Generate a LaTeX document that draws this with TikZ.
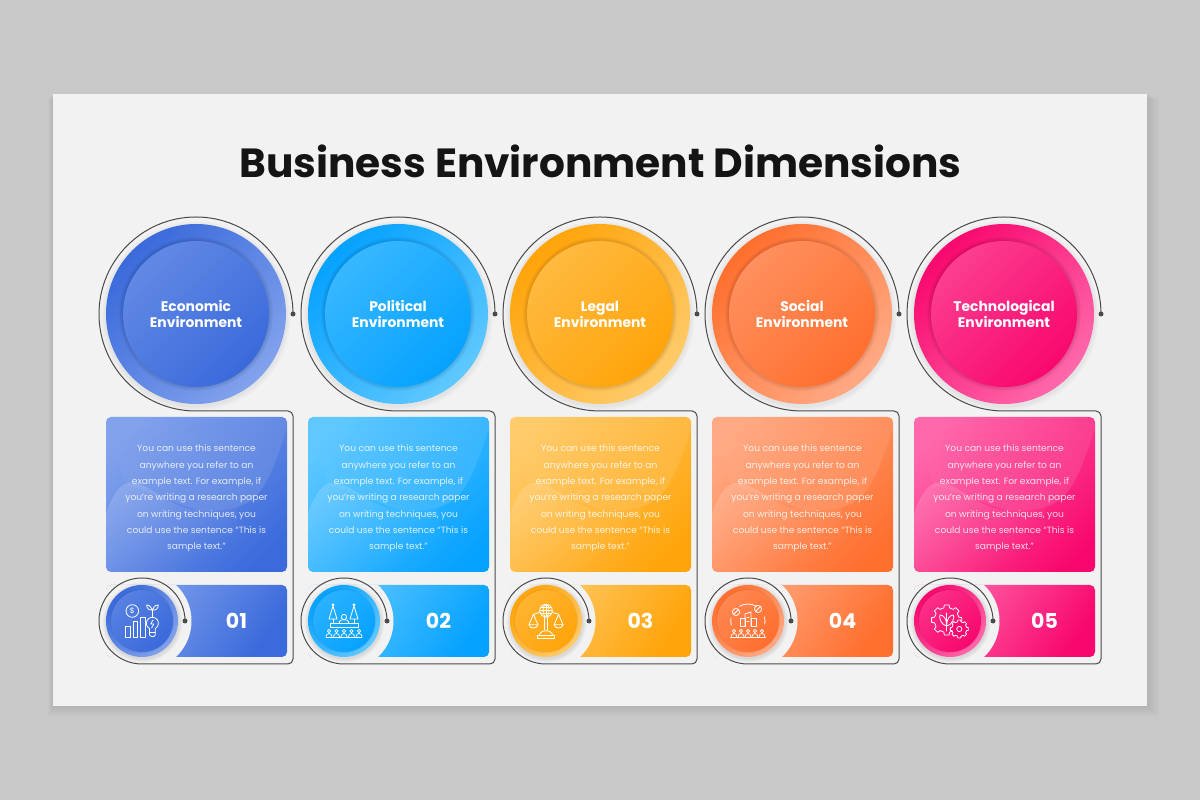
\documentclass[tikz,border=0pt]{standalone}
\usepackage{fontspec}
\setmainfont{Poppins}
\usetikzlibrary{calc,fadings}
\definecolor{pagebg}{HTML}{C8C8C8}
\definecolor{slidebg}{HTML}{F2F2F2}
\definecolor{linec}{HTML}{4A4A4A}
\definecolor{titlec}{HTML}{141414}
\definecolor{darkA}{HTML}{3A6ADB}\definecolor{lightA}{HTML}{82A2EC}
\definecolor{darkB}{HTML}{06A2FF}\definecolor{lightB}{HTML}{60C8FF}
\definecolor{darkC}{HTML}{FFA40A}\definecolor{lightC}{HTML}{FFCB6B}
\definecolor{darkD}{HTML}{FF6F2E}\definecolor{lightD}{HTML}{FFAA85}
\definecolor{darkE}{HTML}{F8086E}\definecolor{lightE}{HTML}{FF69AB}
\tikzset{
  x=1pt,y=1pt,
  linepath/.style={draw=linec,line width=1pt},
  dotnode/.style={circle,fill=linec,inner sep=0pt,minimum size=5pt},
  headtext/.style={text=white,align=center,font=\fontsize{13.9}{16}\selectfont\bfseries},
  bodytext/.style={text=white,text opacity=.82,align=center,font=\fontsize{9.1}{16.3}\selectfont},
  numtext/.style={text=white,font=\fontsize{20.5}{22}\selectfont\bfseries},
  icon/.style={draw=white,line width=.8pt,line join=round,line cap=round},
}
\newcommand{\column}[5]{% shift, letter, head, number, icon macro
\begin{scope}[xshift=#1pt]
  \foreach \k in {1,...,5}{\fill[black,opacity=.012] (196,484) circle ({90+\k});}
  \shade[top color=dark#2,bottom color=light#2,shading angle=45]
     (196,486) circle (90);
  \foreach \k in {1,...,6}{\fill[black,opacity=.02] (196,486) circle ({73+\k*.7});}
  \shade[top color=light#2!55!dark#2,bottom color=dark#2,shading angle=45]
     (196,486) circle (73);
  \node[headtext] (head#2) at (196,486) {#3};
  \begin{scope}
    \path[clip,rounded corners=5pt] (106,228) rectangle (287,383);
    \shade[top color=light#2,bottom color=dark#2,shading angle=45] (96,218) rectangle (297,393);
    \fill[white,path fading=south,fading angle=45,opacity=.16] (105,283) .. controls (110,300) and (118,313) .. (125,316)
       .. controls (145,324) and (165,292) .. (197,290)
       .. controls (212,288) and (225,290) .. (237,293)
       -- (237,228) -- (100,228) -- cycle;
    \fill[white,path fading=north,fading angle=45,opacity=.12] (287,372) .. controls (272,325) and (262,300) .. (237,293)
       .. controls (225,290) and (212,288) .. (197,290)
       -- (125,316) -- (106,383) -- (287,383) -- cycle;
  \end{scope}
  \node[bodytext] (body#2) at (196.5,301.5) {You can use this sentence\\anywhere you refer to an\\example text. For example, if\\you're writing a research paper\\on writing techniques, you\\could use the sentence “This is\\sample text.”};
  \begin{scope}
    \path[clip,rounded corners=5pt] (106,143) rectangle (287,215);
    \shade[top color=light#2,bottom color=dark#2,shading angle=55] (106,143) rectangle (287,215);
    \fill[slidebg] (142,179) circle (49.5);
  \end{scope}
  \node[numtext] (num#2) at (236.5,179) {#4};
  \foreach \k in {1,...,5}{\fill[black,opacity=.02] (142.5,177.5) circle ({36+\k*.8});}
  \shade[top color=dark#2,bottom color=light#2,shading angle=45] (142,179) circle (36);
  \foreach \k in {1,...,3}{\fill[black,opacity=.025] (142,179) circle ({31+\k*.5});}
  \shade[top color=light#2!40!dark#2,bottom color=dark#2,shading angle=45] (142,179) circle (31);
  \begin{scope}[shift={(142,179)}]
    #5
  \end{scope}
  \node[dotnode] (dotbig#2) at (293,486) {};
  \node[dotnode] (dotsmall#2) at (185,179) {};
  \draw[linepath] (dotbig#2.center) arc[start angle=0,end angle=270,radius=97]
     -- (288,389) arc[start angle=90,end angle=0,radius=5]
     -- (293,141) arc[start angle=0,end angle=-90,radius=5]
     -- (142,136) arc[start angle=270,end angle=0,radius=43];
\end{scope}}
\newcommand{\gearpath}[4]{% cx cy r options
  \draw[icon,#4] ($(#1,#2)+(-13:#3)$)
   \foreach \a in {0,45,...,315}{
     -- ($(#1,#2)+(\a-13:#3)$) -- ($(#1,#2)+(\a-9:#3*1.22)$) -- ($(#1,#2)+(\a+9:#3*1.22)$) -- ($(#1,#2)+(\a+13:#3)$)} -- cycle;}
\newcommand{\iconA}{%
  \draw[icon] (-9.7,10) circle (6.3);
  \node[text=white,font=\fontsize{7.5}{8}\selectfont,inner sep=0pt] (dollar) at (-9.7,10) {\$};
  \draw[icon] (-16.3,-16.3) rectangle (-11.5,-5.7);
  \draw[icon] (-9,-16.3) rectangle (-4.3,-0.7);
  \draw[icon] (-2,-16.3) rectangle (3,3.7);
  \draw[icon] (7.4,-7.5) arc[start angle=240,end angle=-60,radius=6];
  \draw[icon] (7.4,-7.5) -- (7.4,-14) .. controls (8.5,-16.5) and (11.8,-16.5) .. (13.2,-14) -- (13.2,-7.5);
  \draw[icon] (7.4,-11) -- (13.2,-11);
  \draw[icon] (11,1) -- (8.8,-3) -- (11.8,-3) -- (9.6,-7);
  \draw[icon] (10.3,4.3) -- (10.3,12);
  \draw[icon] (10.3,11) .. controls (7.5,16.5) and (6,16) .. (4.7,16) .. controls (4.7,12.5) and (7,10.5) .. (10.3,11);
  \draw[icon] (10.3,11) .. controls (13,16.5) and (15,16) .. (16.3,16) .. controls (16.3,12.5) and (14,10.5) .. (10.3,11);
}
\newcommand{\person}[2]{%
  \draw[icon,line width=.7pt] (#1,#2) circle (1.7);
  \draw[icon,line width=.7pt] ({#1-3},{#2-5.6}) .. controls ({#1-3},{#2-1.5}) and ({#1+3},{#2-1.5}) .. ({#1+3},{#2-5.6});}
\newcommand{\iconB}{%
  \draw[icon] (-11,15) -- (-15,2) -- (-7,2) -- cycle;
  \draw[icon] (-11,16.2) circle (1);
  \draw[icon] (-11,2) -- (-11,-2);
  \draw[icon] (10,15) -- (6,2) -- (14,2) -- cycle;
  \draw[icon] (10,16.2) circle (1);
  \draw[icon] (10,2) -- (10,-2);
  \draw[icon] (0,4) circle (2.6);
  \draw[icon] (-4.5,-2) -- (-4.5,-0.5) .. controls (-4.5,2) and (4.5,2) .. (4.5,-0.5) -- (4.5,-2);
  \draw[icon] (-14,-6) rectangle (14,-2);
  \foreach \p in {-15,-7.5,0,7.5,15}{\person{\p}{-10}}
  \draw[icon] (-18,-16.5) -- (18,-16.5);
}
\newcommand{\iconC}{%
  \begin{scope}[scale=.74]
  \draw[icon] (0,14) circle (8.5);
  \draw[icon] (0,22.5) -- (0,5.5);
  \draw[icon] (-8.5,14) -- (8.5,14);
  \draw[icon] (0,14) ellipse (4 and 8.5);
  \draw[icon] (-7.5,18) -- (7.5,18);
  \draw[icon] (-7.5,10) -- (7.5,10);
  \draw[icon] (-8,12) -- (-17,9);
  \draw[icon] (8,12) -- (17,9);
  \draw[icon] (-17,9) -- (-23,-5) -- (-11,-5) -- cycle;
  \draw[icon] (-23,-5) .. controls (-22,-11) and (-12,-11) .. (-11,-5);
  \draw[icon] (17,9) -- (11,-5) -- (23,-5) -- cycle;
  \draw[icon] (11,-5) .. controls (12,-11) and (22,-11) .. (23,-5);
  \draw[icon] (-2,5.5) -- (-2,-12);
  \draw[icon] (2,5.5) -- (2,-12);
  \draw[icon] (-9,-20) .. controls (-9,-11) and (9,-11) .. (9,-20) -- cycle;
  \draw[icon] (-12,-23) rectangle (12,-20);
  \end{scope}
}
\newcommand{\iconD}{%
  \draw[icon] (-8.5,14.7) arc[start angle=120,end angle=60,radius=17];
  \draw[icon] (-17,3) arc[start angle=170,end angle=195,radius=17];
  \draw[icon] (16.5,4) arc[start angle=14,end angle=-10,radius=17];
  \draw[icon] (-12,9) circle (3.6);
  \draw[icon] (-14.5,6.5) -- (-9.5,11.5);
  \draw[icon] (10,12) circle (3.6);
  \draw[icon] (7.5,9.5) -- (12.5,14.5);
  \draw[icon] (-8,-5.5) rectangle (-3,3);
  \draw[icon] (-3,-5.5) -- (-3,7) -- (3,9) -- (3,-5.5);
  \draw[icon] (3,3) rectangle (8,-5.5);
  \draw[icon] (-1,4) -- (1,4);
  \draw[icon] (-1,0) -- (1,0);
  \foreach \p in {-14,-7,0,7,14}{\person{\p}{-10}}
  \draw[icon] (-17.5,-16.5) -- (17.5,-16.5);
}
\newcommand{\iconE}{%
  \gearpath{-3.3}{1}{12.5}{}
  \draw[icon] (-3.3,-10) -- (-3.3,8);
  \draw[icon] (-3.3,-5) .. controls (-10,-3) and (-11,4) .. (-10,6) .. controls (-7,6) and (-3.3,3) .. (-3.3,-5);
  \draw[icon] (-3.3,-5) .. controls (3.4,-3) and (4.4,4) .. (3.4,6) .. controls (0.4,6) and (-3.3,3) .. (-3.3,-5);
  \gearpath{9.3}{-8}{7.4}{fill=darkE}
  \draw[icon] (9.3,-8) circle (2.6);
}
\begin{document}
\begin{tikzpicture}
\useasboundingbox (0,0) rectangle (1200,800);
\fill[pagebg] (0,0) rectangle (1200,800);
\foreach \k in {1,...,10}{\fill[black,opacity=.007] ({53-\k*.5},{94-\k}) rectangle ({1147+\k*1.2},{706-\k*.5});}
\fill[slidebg] (53,94) rectangle (1147,706);
\node[text=titlec,inner sep=0pt] (maintitle) at (600.5,639) {\fontsize{40.7}{42}\selectfont\bfseries Business Environment Dimensions};
\column{0}{A}{Economic\\Environment}{01}{\iconA}
\column{202}{B}{Political\\Environment}{02}{\iconB}
\column{404}{C}{Legal\\Environment}{03}{\iconC}
\column{606}{D}{Social\\Environment}{04}{\iconD}
\column{808}{E}{Technological\\Environment}{05}{\iconE}
\end{tikzpicture}
\end{document}
